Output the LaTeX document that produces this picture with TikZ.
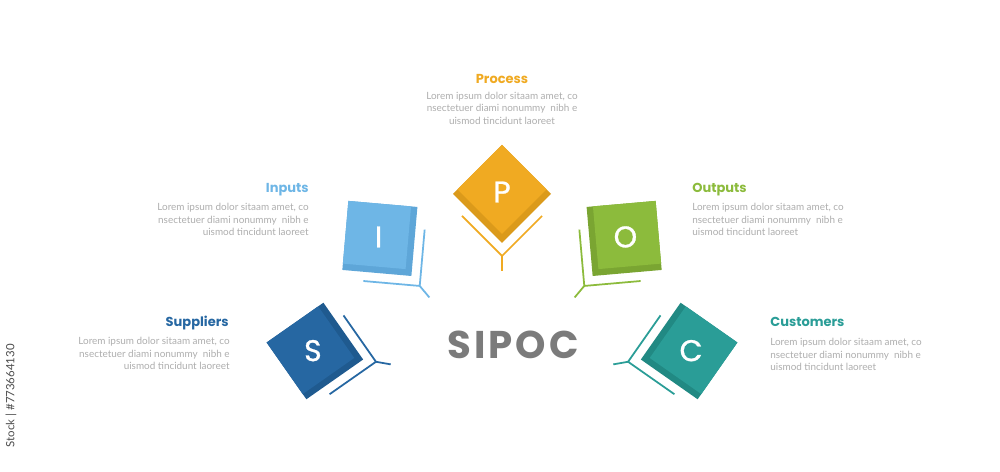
\documentclass[tikz,border=0pt]{standalone}
\usepackage{fontspec}
\setmainfont{Lato}
\newfontfamily\headfont{Poppins}
\newfontfamily\letterfont{Poppins}[FakeBold=0.9]
\newfontfamily\titlefont{Poppins}[LetterSpace=8]
\definecolor{sD}{HTML}{1F5A8F}\definecolor{sL}{HTML}{2667A2}
\definecolor{iD}{HTML}{5EA6D8}\definecolor{iL}{HTML}{6EB6E6}
\definecolor{pD}{HTML}{DB9A1B}\definecolor{pL}{HTML}{F0AA22}
\definecolor{oD}{HTML}{7AA532}\definecolor{oL}{HTML}{8CBB3C}
\definecolor{cD}{HTML}{218983}\definecolor{cL}{HTML}{2A9D97}
\definecolor{bodygray}{HTML}{AEAEAE}
\definecolor{titlegray}{HTML}{7B7B7B}
\tikzset{
  head/.style={font=\headfont\bfseries\fontsize{7.4}{9}\selectfont, inner sep=0pt},
  body/.style={font=\fontsize{5.65}{7.1}\selectfont, text=bodygray, inner sep=0pt},
  letter/.style={text=white, font=\letterfont\fontsize{17}{17}\selectfont, inner sep=0pt},
  bracket/.style={line width=1pt}
}
\newcommand\sipocsq[5]{%
  \begin{scope}[shift={(502,88)}, rotate=#1, shift={(190,0)}]
    \fill[#2] (-49,0) -- (0,49) -- (49,0) -- (0,-49) -- cycle;
    \fill[#3] (-40,0) -- (4.5,44.5) -- (49,0) -- (4.5,-44.5) -- cycle;
    \draw[#3, bracket] (-22,40) -- (-62,0) -- (-22,-40);
    \draw[#3, bracket] (-62,0) -- (-77,0);
    \node[letter] (#5) at (2,0) {#4};
  \end{scope}}
\begin{document}
\begin{tikzpicture}[x=0.02cm,y=0.02cm]
\useasboundingbox (0,0) rectangle (1000,472);
\fill[white] (0,0) rectangle (1000,472);

\sipocsq{170}{sD}{sL}{S}{sqS}
\sipocsq{130}{iD}{iL}{I}{sqI}
\sipocsq{90}{pD}{pL}{P}{sqP}
\sipocsq{50}{oD}{oL}{O}{sqO}
\sipocsq{10}{cD}{cL}{C}{sqC}

\node[font=\titlefont\bfseries\fontsize{22}{22}\selectfont, text=titlegray, inner sep=0pt, anchor=base] (title) at (513,113) {SIPOC};

% Process
\node[head, text=pL, anchor=base] (hP) at (502,388) {Process};
\node[body, align=center, anchor=north] (tP) at (502,380.5) {Lorem ipsum dolor sitaam amet, co\\nsectetuer diami nonummy~ nibh e\\uismod tincidunt laoreet};
% Inputs
\node[head, text=iL, anchor=base east] (hI) at (309,279) {Inputs};
\node[body, align=right, anchor=north east] (tI) at (309,269) {Lorem ipsum dolor sitaam amet, co\\nsectetuer diami nonummy~ nibh e\\uismod tincidunt laoreet};
% Suppliers
\node[head, text=sL, anchor=base east] (hS) at (229,145) {Suppliers};
\node[body, align=right, anchor=north east] (tS) at (230,135) {Lorem ipsum dolor sitaam amet, co\\nsectetuer diami nonummy~ nibh e\\uismod tincidunt laoreet};
% Outputs
\node[head, text=oL, anchor=base west] (hO) at (692,279) {Outputs};
\node[body, align=left, anchor=north west] (tO) at (692,269) {Lorem ipsum dolor sitaam amet, co\\nsectetuer diami nonummy~ nibh e\\uismod tincidunt laoreet};
% Customers
\node[head, text=cL, anchor=base west] (hC) at (770,145) {Customers};
\node[body, align=left, anchor=north west] (tC) at (770,134) {Lorem ipsum dolor sitaam amet, co\\nsectetuer diami nonummy~ nibh e\\uismod tincidunt laoreet};

\node[rotate=90, anchor=east, font=\fontsize{6.5}{7}\selectfont, text=black!70, inner sep=0pt] (wm) at (11,128) {Stock | \#773664130};
\end{tikzpicture}
\end{document}
